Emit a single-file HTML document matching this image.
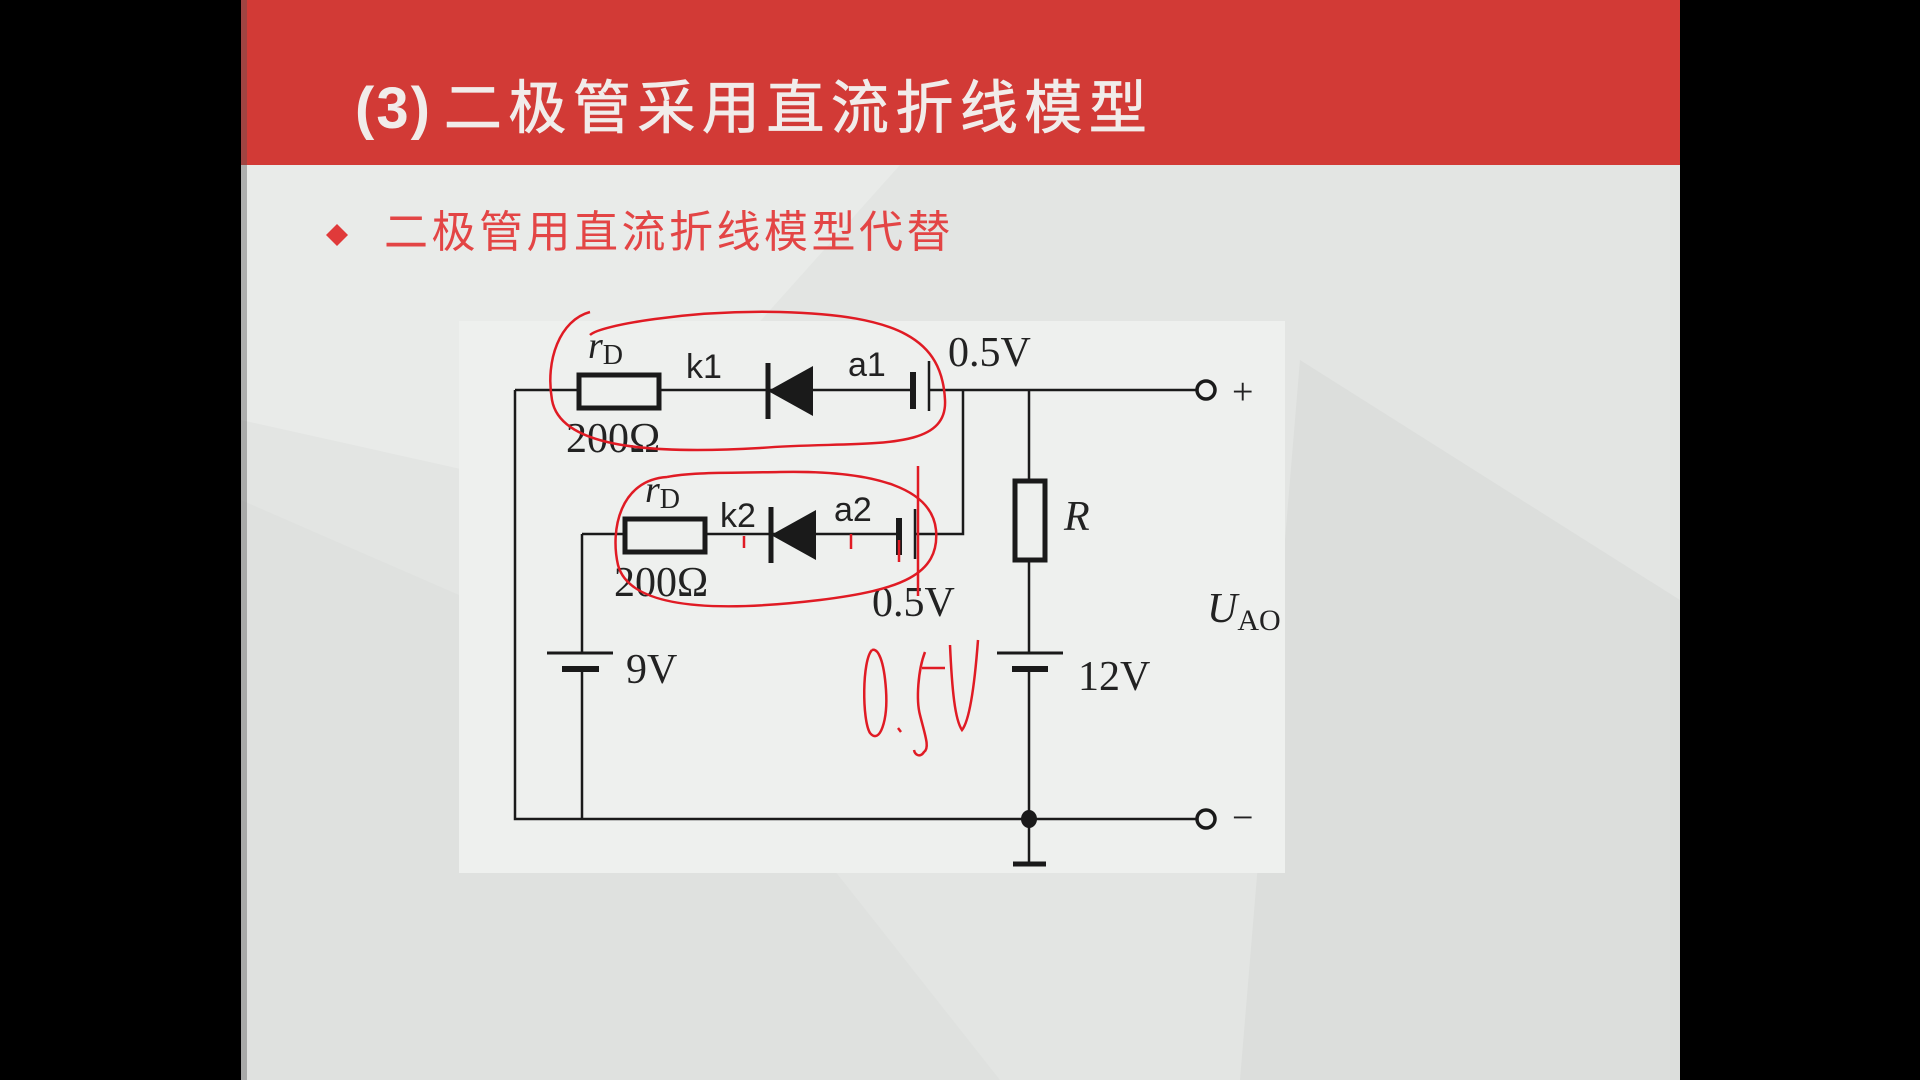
<!DOCTYPE html>
<html><head><meta charset="utf-8"><style>
html,body{margin:0;padding:0;background:#000;width:1920px;height:1080px;overflow:hidden}
svg{display:block}
.s{font-family:"Liberation Serif",serif;fill:#222}
.a{font-family:"Liberation Sans",sans-serif;fill:#222}
</style></head><body>
<svg width="1920" height="1080" viewBox="0 0 1920 1080" xmlns="http://www.w3.org/2000/svg">
<rect x="0" y="0" width="1920" height="1080" fill="#000"/>
<rect x="241" y="0" width="1439" height="1080" fill="#e3e5e3"/>
<polygon points="241,165 900,165 600,500 241,420" fill="#e9ebe9"/>
<polygon points="1300,360 1680,600 1680,1080 1240,1080" fill="#dcdedc"/>
<polygon points="241,500 700,700 1000,1080 241,1080" fill="#dfe1df"/>
<rect x="241" y="0" width="1439" height="165" fill="#d23a36"/>
<rect x="241" y="0" width="6" height="1080" fill="#555" opacity="0.4"/>
<text x="355" y="128" font-family="Liberation Sans,'Noto Sans CJK SC',sans-serif" font-size="58" fill="#f1ecea"><tspan font-weight="bold" letter-spacing="2">(3)</tspan><tspan dx="12" letter-spacing="6.5" stroke="#f1ecea" stroke-width="0.8">二极管采用直流折线模型</tspan></text>
<polygon points="337,224 348,235 337,246 326,235" fill="#e03a3a"/>
<text x="384" y="247" font-family="Liberation Sans,'Noto Sans CJK SC',sans-serif" font-size="44" fill="#e34545" letter-spacing="3.5">二极管用直流折线模型代替</text>
<rect x="459" y="321" width="826" height="552" fill="#eef0ee"/>
<g stroke="#1a1a1a" stroke-width="2.5" fill="none">
<polyline points="515,390 515,819 1196,819"/>
<line x1="515" y1="390" x2="577" y2="390"/>
<line x1="661" y1="390" x2="913" y2="390"/>
<line x1="929" y1="390" x2="1196" y2="390"/>
<polyline points="963,390 963,534 915,534"/>
<line x1="582" y1="534" x2="623" y2="534"/>
<line x1="707" y1="534" x2="899" y2="534"/>
<polyline points="582,534 582,653"/>
<line x1="582" y1="669" x2="582" y2="819"/>
<line x1="1029" y1="390" x2="1029" y2="479"/>
<line x1="1029" y1="562" x2="1029" y2="653"/>
<line x1="1029" y1="669" x2="1029" y2="864"/>
</g>
<g stroke="#1a1a1a" stroke-width="5" fill="none">
<rect x="579" y="375" width="80" height="33"/>
<rect x="625" y="519" width="80" height="33"/>
<rect x="1015" y="481" width="30" height="79"/>
<line x1="768" y1="363" x2="768" y2="419"/>
<line x1="771" y1="507" x2="771" y2="563"/>
<line x1="1013" y1="864" x2="1046" y2="864"/>
</g>
<polygon points="768,391 813,366 813,416" fill="#1a1a1a"/>
<polygon points="771,535 816,510 816,560" fill="#1a1a1a"/>
<g stroke="#1a1a1a">
<line x1="913" y1="372" x2="913" y2="409" stroke-width="6"/>
<line x1="929" y1="361" x2="929" y2="411" stroke-width="2.5"/>
<line x1="899" y1="518" x2="899" y2="555" stroke-width="6"/>
<line x1="915" y1="509" x2="915" y2="559" stroke-width="2.5"/>
<line x1="547" y1="653" x2="613" y2="653" stroke-width="3"/>
<line x1="562" y1="669" x2="599" y2="669" stroke-width="6"/>
<line x1="997" y1="653" x2="1063" y2="653" stroke-width="3"/>
<line x1="1012" y1="669" x2="1048" y2="669" stroke-width="6"/>
</g>
<ellipse cx="1029" cy="819" rx="8" ry="9" fill="#1a1a1a"/>
<circle cx="1206" cy="390" r="9" fill="#eef0ee" stroke="#1a1a1a" stroke-width="3.5"/>
<circle cx="1206" cy="819" r="9" fill="#eef0ee" stroke="#1a1a1a" stroke-width="3.5"/>
<text x="1232" y="404" class="s" font-size="38">+</text>
<text x="1232" y="830" class="s" font-size="38">−</text>
<text x="588" y="358" class="s" font-size="38" font-style="italic">r<tspan font-size="28" font-style="normal" dy="6">D</tspan></text>
<text x="645" y="502" class="s" font-size="38" font-style="italic">r<tspan font-size="28" font-style="normal" dy="6">D</tspan></text>
<text x="686" y="378" class="a" font-size="34">k1</text>
<text x="848" y="376" class="a" font-size="34">a1</text>
<text x="720" y="527" class="a" font-size="34">k2</text>
<text x="834" y="521" class="a" font-size="34">a2</text>
<text x="948" y="366" class="s" font-size="42">0.5V</text>
<text x="566" y="452" class="s" font-size="42">200Ω</text>
<text x="614" y="596" class="s" font-size="42">200Ω</text>
<text x="872" y="616" class="s" font-size="42">0.5V</text>
<text x="1064" y="530" class="s" font-size="42" font-style="italic">R</text>
<text x="1207" y="622" class="s" font-size="42" font-style="italic">U<tspan font-size="30" font-style="normal" dy="8">AO</tspan></text>
<text x="626" y="683" class="s" font-size="42">9V</text>
<text x="1078" y="690" class="s" font-size="42">12V</text>
<g stroke="#e01b24" stroke-width="2.5" fill="none">
<path d="M590,312 C560,320 545,360 552,400 C560,445 640,455 760,448 C860,440 948,455 945,400 C942,340 900,315 780,312 C690,310 600,325 590,335"/>
<path d="M667,477 C620,480 610,530 618,565 C630,610 720,612 820,600 C900,590 940,575 936,530 C932,490 880,470 780,472 C730,473 690,472 667,477"/>
<line x1="918" y1="466" x2="918" y2="596"/>
<line x1="744" y1="536" x2="744" y2="548"/>
<line x1="851" y1="534" x2="851" y2="549"/>
<line x1="899" y1="540" x2="899" y2="562"/>
<path d="M872,650 C862,660 862,720 870,733 C880,745 888,720 886,690 C884,660 878,648 872,650"/>
<path d="M898,728 l3,4"/>
<path d="M925,652 C918,670 916,700 920,715 C925,735 930,748 924,752 C920,758 915,755 914,750"/>
<path d="M922,668 L945,668"/>
<path d="M950,645 C952,690 955,720 962,730 C970,720 975,680 978,640"/>
</g>
</svg>
</body></html>
